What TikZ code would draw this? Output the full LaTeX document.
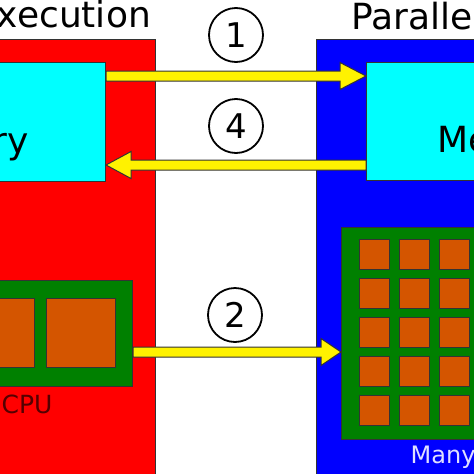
\documentclass[tikz,border=0pt]{standalone}
\usepackage{fontspec}
\setmainfont{DejaVu Sans}
\usetikzlibrary{calc}

\definecolor{memcyan}{HTML}{00FFFF}
\definecolor{corecol}{HTML}{D45500}
\definecolor{chipgreen}{HTML}{008000}
\definecolor{cpulabel}{HTML}{550000}
\definecolor{manylabel}{HTML}{E0E0FF}

% fat yellow arrow: start, tip, head length
\newcommand{\fatarrow}[3]{%
    \coordinate (fa-h) at ($(#2)!#3!(#1)$);
    \draw[fatarrow] ($(#1)!5pt!90:(#2)$) -- ($(fa-h)!5pt!-90:(#1)$)
        -- ($(fa-h)!13.5pt!-90:(#1)$) -- (#2)
        -- ($(fa-h)!13.5pt!90:(#1)$) -- ($(fa-h)!5pt!90:(#1)$)
        -- ($(#1)!5pt!-90:(#2)$) -- cycle;
}

\begin{document}
\begin{tikzpicture}[x=1pt, y=-1pt,
    panel/.style={draw=black!80, line width=0.8pt},
    membox/.style={draw=black!80, fill=memcyan, line width=1pt, inner sep=0pt},
    chip/.style={draw=black!80, fill=chipgreen, line width=1pt, inner sep=0pt},
    core/.style={draw=black!80, fill=corecol, line width=1pt, inner sep=0pt, minimum size=30pt},
    fatarrow/.style={draw=black!80, fill=yellow, line width=1pt, line join=miter},
    numcircle/.style={draw, circle, line width=1.8pt, minimum size=54pt, inner sep=0pt,
        font=\fontsize{34}{40}\selectfont},
    title/.style={inner sep=0pt, font=\fontsize{36}{43}\selectfont}]
    \useasboundingbox (0,0) rectangle (474,474);
    \clip (0,0) rectangle (474,474);

    % Draw the two execution panels
    \draw[panel, fill=red] (-100,39) rectangle (155,520);
    \draw[panel, fill=blue] (316,39) rectangle (600,520);

    % Memory boxes
    \node[membox, minimum width=200pt, minimum height=119pt, anchor=north east] (memL) at (106,62) {};
    \node[membox, minimum width=200pt, minimum height=118pt, anchor=north west] (memR) at (366,62) {};

    % CPU with two cores
    \node[chip, minimum width=186pt, minimum height=106pt, anchor=north east] (cpu) at (133,280) {};
    \foreach \k in {0,1}
        \node[core, minimum size=69pt] (cc\k) at (-0.5+81*\k,332.5) {};

    % Many-core chip
    \node[chip, minimum width=200pt, minimum height=212pt, anchor=north west] (many) at (341,227) {};
    \foreach \i in {0,...,4}
        \foreach \j in {0,...,3}
            \node[core] (g\i\j) at (374+40*\j,254.5+39*\i) {};

    % Transfer arrows
    \coordinate (in1) at ($(memL.north east)+(0,14)$);
    \coordinate (out1) at (memR.west |- in1);
    \fatarrow{in1}{out1}{26pt}
    \coordinate (in4) at ($(memR.south west)+(0,-16)$);
    \coordinate (out4) at (memL.east |- in4);
    \fatarrow{in4}{out4}{25pt}
    \coordinate (in2) at ($(cpu.north east)+(0,72)$);
    \coordinate (out2) at (many.west |- in2);
    \fatarrow{in2}{out2}{20pt}

    % Step numbers
    \node[numcircle] (n1) at (236,35) {1};
    \node[numcircle] (n4) at (236,126) {4};
    \node[numcircle] (n2) at (235,315) {2};

    % Labels
    \node[title, anchor=base east] (serial) at (151,27) {xecution};
    \node[title, anchor=base west] (parallel) at (351,29) {Paralle};
    \node[title, anchor=base east] (memLtext) at (29,153) {ry};
    \node[title, anchor=base west] (memRtext) at (437,152) {Me};
    \node[inner sep=0pt, anchor=base west, text=cpulabel, font=\fontsize{25}{30}\selectfont] (cpulbl) at (1.5,413) {CPU};
    \node[inner sep=0pt, anchor=base west, text=manylabel, font=\fontsize{24}{29}\selectfont] (manylbl) at (410.5,463) {Many};
\end{tikzpicture}
\end{document}
